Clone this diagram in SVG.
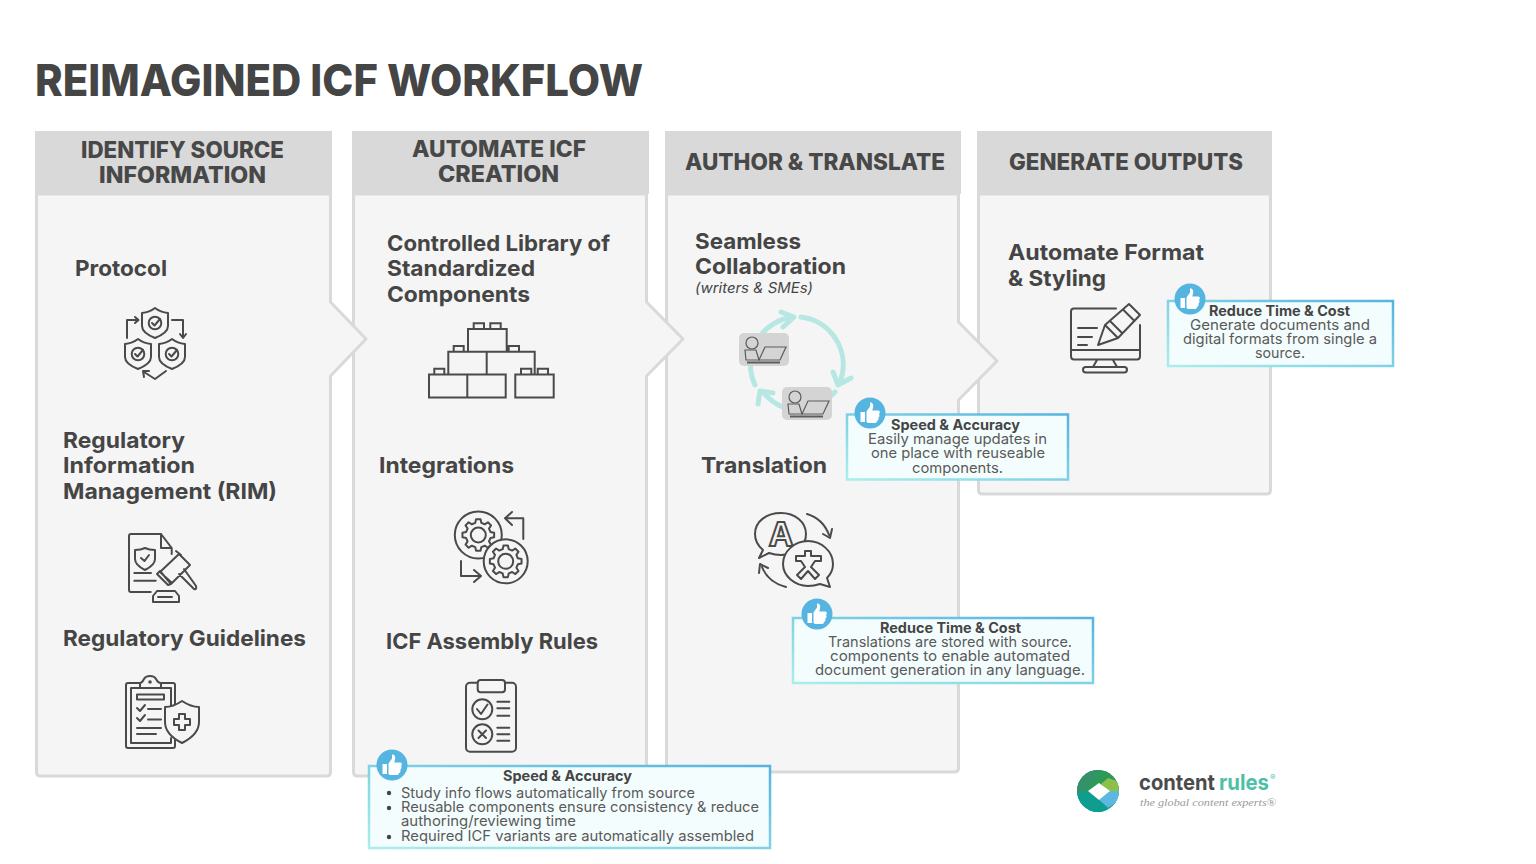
<svg xmlns="http://www.w3.org/2000/svg" width="1536" height="864" viewBox="0 0 1536 864">
<style>
text{font-family:"Inter","Open Sans","Liberation Sans",sans-serif;fill:#454545}
.title{font-size:44px;font-weight:800}
.hd{font-size:22.5px;font-weight:800;fill:#484848}
.sub{font-size:22px;font-weight:700}
.cb{font-size:14px;font-weight:700}
.ct{font-size:14.5px;font-weight:400;fill:#5a5a5a}
.pan{fill:#f5f5f5;stroke:#d9d9d9;stroke-width:3;stroke-linejoin:round}
.head{fill:#d9d9d9}
.ic{fill:none;stroke:#4a4a4a;stroke-width:2;stroke-linecap:round;stroke-linejoin:round}
.if{fill:#f5f5f5;stroke:#4a4a4a;stroke-width:2;stroke-linecap:round;stroke-linejoin:round}
.cy{fill:none;stroke:#b6e7e3;stroke-width:5;stroke-linecap:round;stroke-linejoin:round}
.pc{fill:none;stroke:#5c5c5c;stroke-width:1.200}
.box{fill:#f4fdfd;stroke:url(#bg);stroke-width:2.500}
</style>
<defs>
<linearGradient id="bg" x1="0" y1="1" x2="1" y2="0"><stop offset="0" stop-color="#aaeeea"/><stop offset="1" stop-color="#55b4e0"/></linearGradient>
<clipPath id="lc"><circle cx="1098" cy="791" r="21"/></clipPath>
<g id="thumb"><circle r="15.500" fill="#55b5e0"/><path d="M-9.500 -1H-5V9H-9.500ZM-3.500 -1.500L0 -6.500V-10.500C2.500 -11 3.800 -8.500 3 -5.500L2.300 -2.500H8C10 -2.500 10.500 0 9 1C10 2.500 9.500 4 8.300 4.500C9 6 8.300 7.500 7 8C7 9.500 6 10 4.500 10H-1C-2 10 -3 9.500 -3.500 9Z" fill="#fff"/></g>
<g id="shield"><path class="if" d="M0 -15C4 -12 9 -10.500 13 -10V3C13 9 5 13 0 15C-5 13 -13 9 -13 3V-10C-9 -10.500 -4 -12 0 -15Z"/><circle class="ic" r="6.300" stroke-width="1.600"/><path class="ic" d="M-3 0L-.5 2.500L5 -4"/></g>
<g id="gear"><path class="ic" d="M12.130 -3.020L15.840 -2.230V2.230L12.130 3.020L10.710 6.440L12.780 9.630L9.630 12.780L6.440 10.710L3.020 12.130L2.230 15.840H-2.230L-3.020 12.130L-6.440 10.710L-9.630 12.780L-12.780 9.630L-10.710 6.440L-12.130 3.020L-15.840 2.230V-2.230L-12.130 -3.020L-10.710 -6.440L-12.780 -9.630L-9.630 -12.780L-6.440 -10.710L-3.020 -12.130L-2.230 -15.840H2.230L3.020 -12.130L6.440 -10.710L9.630 -12.780L12.780 -9.630L10.710 -6.440Z"/><circle class="ic" r="7.500"/></g>
<g id="worker"><rect width="50" height="33" rx="5" fill="#d4d4d4"/><circle class="pc" cx="13" cy="10" r="6"/><path class="pc" d="M6 17H17L20 27H7Z"/><path class="pc" d="M20 27L26 14H47L41 27Z"/><path d="M8 29.500H41" stroke="#5c5c5c" stroke-width="1.800"/></g>
</defs>

<g id="panel-4">
<path class="pan" d="M978.500 194V490Q978.500 494 982.500 494H1266.500Q1270.500 494 1270.500 490V194Z"/><rect class="head" x="977" y="131" width="295" height="63"/>
<text class="hd" x="1009" y="170" textLength="234" lengthAdjust="spacingAndGlyphs">GENERATE OUTPUTS</text>
<text class="sub" x="1008" y="260" textLength="196" lengthAdjust="spacingAndGlyphs">Automate Format</text>
<text class="sub" x="1008" y="286" textLength="98" lengthAdjust="spacingAndGlyphs">&amp; Styling</text>
<g id="icon-monitor">
<path class="ic" d="M1116 308.500H1074Q1071 308.500 1071 311.500V356Q1071 359.500 1074 359.500H1137Q1140 359.500 1140 356V325M1071 350H1140M1078 328H1097M1078 337H1092M1078 345H1087M1097 360L1093 367M1113 360L1117 367"/>
<rect class="ic" x="1083" y="367" width="44" height="5.500" rx="2.700"/>
<path class="ic" d="M1098 345L1105 325L1129 304L1140 315L1118 338ZM1105 325L1118 338M1123 309.500L1134.500 321M1110 321L1122 333"/>
</g>
</g>

<g id="panel-3">
<path class="pan" d="M666.500 194V768Q666.500 772 670.500 772H954.500Q958.500 772 958.500 768V400L997 361L958.500 322V194Z"/><rect class="head" x="665" y="131" width="296" height="63"/>
<text class="hd" x="685" y="170" textLength="260" lengthAdjust="spacingAndGlyphs">AUTHOR &amp; TRANSLATE</text>
<text class="sub" x="695" y="249" textLength="106" lengthAdjust="spacingAndGlyphs">Seamless</text>
<text class="sub" x="695" y="274" textLength="151" lengthAdjust="spacingAndGlyphs">Collaboration</text>
<text x="695" y="293" font-size="14.500" font-style="italic" textLength="118" lengthAdjust="spacingAndGlyphs">(writers &amp; SMEs)</text>
<text class="sub" x="701" y="473" textLength="126" lengthAdjust="spacingAndGlyphs">Translation</text>
<g id="icon-cycle">
<path class="cy" d="M801 317A48 48 0 0 1 841 379M833 372L838 385L851 378"/>
<path class="cy" d="M783 407A48 48 0 0 1 763 392M758 404L760 391L773 393"/>
<path class="cy" d="M755 385A48 48 0 0 1 793 317M781 312L794 317L783 327"/>
<path class="cy" d="M832 395L835 392"/>
<use href="#worker" x="739" y="333"/><use href="#worker" x="782" y="387"/>
</g>
<g id="icon-translate">
<path class="if" d="M759 558L763 550C757 545 755 540 755 534C755 521 767 513 781 513C795 513 806 522 806 534C806 547 795 555 781 555C776 555 772 554 769 553Z"/>
<text x="781" y="546" font-size="33" font-weight="700" text-anchor="middle" style="fill:none;stroke:#4a4a4a;stroke-width:2">A</text>
<path class="if" d="M830 587L827 578C831 574 833 569 833 564C833 551 821 541 808 541C795 541 783 551 783 564C783 576 795 586 808 586C813 586 817 585 820 584Z"/>
<path class="ic" d="M805 556V551H811V556H821V561H815L811 567L819 575L815 579L808 571L801 579L797 575L805 567L801 561H796V556Z"/>
<path class="ic" d="M807 514C817 517 825 524 829 535M823 534L830 538L832 529M786 587C775 584 766 577 762 567M768 568L760 564L759 573"/>
</g>
</g>

<g id="panel-2">
<path class="pan" d="M353.500 194V772Q353.500 776 357.500 776H642.500Q646.500 776 646.500 772V376L683 339L646.500 302V194Z"/><rect class="head" x="352" y="131" width="297" height="63"/>
<text class="hd" x="412" y="157" textLength="174" lengthAdjust="spacingAndGlyphs">AUTOMATE ICF</text>
<text class="hd" x="438" y="182" textLength="121" lengthAdjust="spacingAndGlyphs">CREATION</text>
<text class="sub" x="387" y="251" textLength="223" lengthAdjust="spacingAndGlyphs">Controlled Library of</text>
<text class="sub" x="387" y="276" textLength="148" lengthAdjust="spacingAndGlyphs">Standardized</text>
<text class="sub" x="387" y="302" textLength="143" lengthAdjust="spacingAndGlyphs">Components</text>
<text class="sub" x="379" y="473" textLength="135" lengthAdjust="spacingAndGlyphs">Integrations</text>
<text class="sub" x="386" y="649" textLength="212" lengthAdjust="spacingAndGlyphs">ICF Assembly Rules</text>
<g id="icon-bricks">
<path class="ic" style="stroke-linecap:butt;stroke-linejoin:miter" d="M429 374.500H505.700V397.500H429ZM467.300 374.500V397.500M515.300 374.500H553.700V397.500H515.300ZM448.300 374.500V351.700H534.700V374.500M486.700 351.700V374.500M468 351.700V329H506.700V351.700M473.700 329V323.300H484V329M490.300 329V323.300H500.700V329M453.700 351.700V346H463.700V351.700M508.700 351.700V346H519V351.700M434.300 374.500V368.700H444.300V374.500M521 374.500V368.700H531.300V374.500M537.700 374.500V368.700H548V374.500"/>
</g>
<g id="icon-gears">
<path class="ic" d="M523.300 539V518.300H505M512 512L505 518.300L512 525M461 561V576H480.700M474 570L481 576L474 582"/>
<circle class="ic" cx="478.300" cy="535" r="23.500"/><use href="#gear" x="478.300" y="535"/>
<circle class="if" cx="505.700" cy="561.300" r="22"/><use href="#gear" x="505.700" y="561.300"/>
</g>
<g id="icon-checklist">
<rect class="ic" x="466" y="682.700" width="50" height="69" rx="4"/>
<rect class="if" x="477.700" y="680" width="27.300" height="12.300" rx="3"/>
<circle class="ic" cx="482.300" cy="709.300" r="10"/><circle class="ic" cx="482.300" cy="734.300" r="10"/>
<path class="ic" d="M477 709L481 714L487.500 704.500M478.500 730.500L486 738M486 730.500L478.500 738M497.300 701.700H509.300M497.300 708.300H509.300M497.300 715.700H509.300M497.300 727.700H509.300M497.300 734.300H509.300M497.300 740.700H509.300"/>
</g>
</g>

<g id="panel-1">
<path class="pan" d="M36.500 194V772Q36.500 776 40.500 776H326.500Q330.500 776 330.500 772V376L366 339L330.500 302V194Z"/><rect class="head" x="35" y="131" width="297" height="63"/>
<text class="hd" x="81" y="158" textLength="203" lengthAdjust="spacingAndGlyphs">IDENTIFY SOURCE</text>
<text class="hd" x="99" y="183" textLength="167" lengthAdjust="spacingAndGlyphs">INFORMATION</text>
<text class="sub" x="75" y="276" textLength="92" lengthAdjust="spacingAndGlyphs">Protocol</text>
<text class="sub" x="63" y="448" textLength="122" lengthAdjust="spacingAndGlyphs">Regulatory</text>
<text class="sub" x="63" y="473" textLength="132" lengthAdjust="spacingAndGlyphs">Information</text>
<text class="sub" x="63" y="499" textLength="214" lengthAdjust="spacingAndGlyphs">Management (RIM)</text>
<text class="sub" x="63" y="646" textLength="243" lengthAdjust="spacingAndGlyphs">Regulatory Guidelines</text>
<g id="icon-shields">
<use href="#shield" x="155" y="323"/><use href="#shield" x="138" y="354"/><use href="#shield" x="172" y="354"/>
<path class="ic" d="M127 338V320H138M135 317L138.500 320L135 323M172 320H183V337M180 334L183 338L186 334M166 371L155 379L144 372M144 377L143 371L149 371"/>
</g>
<g id="icon-rim">
<path class="ic" d="M161 534H131Q129 534 129 536V590Q129 592 131 592H150.700M161 534L171.700 548V554M161 534V548H171.700"/>
<path class="ic" d="M145 548C149 550 152 550 155 550V559C155 565 149 568 145 570C141 568 135 565 135 559V550C138 550 141 550 145 548ZM141 558L144.500 561L149 555M134.300 573H151M134.300 580.700H155.700"/>
<path class="ic" d="M179 554L190 565L172 583L160 572ZM176 551L181 555M157 574L168 585L171 584L160 571ZM179 574L194 589Q197 590 196 586L184 569"/>
<path class="ic" d="M157 591H175L179 596V602H153V596ZM158 597H172"/>
</g>
<g id="icon-guidelines">
<path class="ic" d="M150 748H128Q126 748 126 746V685Q126 683 128 683H173Q175 683 175 685V708M175 738V746Q175 748 173 748H150M131 743V688H171V708M131 743H171V738"/>
<path class="if" d="M140 688V683C142 683 143 681 144 679C146 675 154 675 156 679C157 681 158 683 161 683V688Z"/>
<circle cx="150" cy="682" r="1.800" fill="#4a4a4a"/>
<rect class="ic" x="137" y="694.500" width="27" height="5"/>
<path class="ic" d="M137 708L140 711L145 705M148 709H161M137 718L140 721L145 715M148 719.500H161M137 728H161M137 734H156"/>
<path class="if" d="M182 701C188 705 193 707 199 707V722C199 733 190 739 182 743C174 739 165 733 165 722V707C171 707 176 705 182 701Z"/>
<path class="ic" d="M179 714H185V719H190V725H185V730H179V725H174V719H179Z"/>
</g>
</g>

<g id="connectors"></g>

<g id="heading"><text class="title" x="35" y="96" textLength="608" lengthAdjust="spacingAndGlyphs">REIMAGINED ICF WORKFLOW</text></g>

<g id="callout-outputs">
<rect class="box" x="1168" y="301" width="225" height="65"/><use href="#thumb" x="1190" y="299"/>
<text class="cb" x="1209" y="316" textLength="141" lengthAdjust="spacingAndGlyphs">Reduce Time &amp; Cost</text>
<text class="ct" x="1190" y="330" textLength="180" lengthAdjust="spacingAndGlyphs">Generate documents and</text>
<text class="ct" x="1183" y="344" textLength="194" lengthAdjust="spacingAndGlyphs">digital formats from single a</text>
<text class="ct" x="1255" y="358" textLength="50" lengthAdjust="spacingAndGlyphs">source.</text>
</g>
<g id="callout-collab">
<rect class="box" x="847" y="414.500" width="221" height="65"/><use href="#thumb" x="870" y="413"/>
<text class="cb" x="891" y="430" textLength="129" lengthAdjust="spacingAndGlyphs">Speed &amp; Accuracy</text>
<text class="ct" x="868" y="444" textLength="179" lengthAdjust="spacingAndGlyphs">Easily manage updates in</text>
<text class="ct" x="871" y="458" textLength="174" lengthAdjust="spacingAndGlyphs">one place with reuseable</text>
<text class="ct" x="912" y="473" textLength="91" lengthAdjust="spacingAndGlyphs">components.</text>
</g>
<g id="callout-translation">
<rect class="box" x="793" y="618" width="300" height="65"/><use href="#thumb" x="817" y="614"/>
<text class="cb" x="880" y="633" textLength="141" lengthAdjust="spacingAndGlyphs">Reduce Time &amp; Cost</text>
<text class="ct" x="828" y="647" textLength="244" lengthAdjust="spacingAndGlyphs">Translations are stored with source.</text>
<text class="ct" x="830" y="661" textLength="240" lengthAdjust="spacingAndGlyphs">components to enable automated</text>
<text class="ct" x="815" y="675" textLength="270" lengthAdjust="spacingAndGlyphs">document generation in any language.</text>
</g>
<g id="callout-automate">
<rect class="box" x="369" y="766" width="401" height="82"/><use href="#thumb" x="392" y="765"/>
<text class="cb" x="503" y="781" textLength="129" lengthAdjust="spacingAndGlyphs">Speed &amp; Accuracy</text>
<circle cx="389" cy="793" r="2.200" fill="#454545"/><circle cx="389" cy="808" r="2.200" fill="#454545"/><circle cx="389" cy="837" r="2.200" fill="#454545"/>
<text class="ct" x="401" y="798" textLength="294" lengthAdjust="spacingAndGlyphs">Study info flows automatically from source</text>
<text class="ct" x="401" y="812" textLength="358" lengthAdjust="spacingAndGlyphs">Reusable components ensure consistency &amp; reduce</text>
<text class="ct" x="401" y="826" textLength="175" lengthAdjust="spacingAndGlyphs">authoring/reviewing time</text>
<text class="ct" x="401" y="841" textLength="353" lengthAdjust="spacingAndGlyphs">Required ICF variants are automatically assembled</text>
</g>

<g id="logo">
<g clip-path="url(#lc)">
<rect x="1077" y="770" width="42" height="42" fill="#0f9d8f"/>
<path d="M1077 770H1119V794H1110L1099 783L1088 791H1077Z" fill="#2e9a58"/>
<path d="M1077 770H1100L1090 785L1077 795Z" fill="#35916a"/>
<path d="M1108 778L1120 782V793H1110L1101 784Z" fill="#8cc04b"/>
<path d="M1120 791H1110L1099 800L1108 808L1120 800Z" fill="#5db7e0"/>
<path d="M1077 795L1088 791L1099 800L1108 808L1100 813H1077Z" fill="#0f9d8f"/>
</g>
<path d="M1088 791L1099 783L1110 791L1099 800Z" fill="#fff"/>
<text x="1139" y="790" font-size="22" font-weight="700" textLength="76" lengthAdjust="spacingAndGlyphs" style="fill:#4b4b4b">content</text>
<text x="1219" y="790" font-size="22" font-weight="700" textLength="50" lengthAdjust="spacingAndGlyphs" style="fill:#4fbfa8">rules</text>
<text x="1270" y="780" font-size="8" style="fill:#4fbfa8">®</text>
<text x="1140" y="806" font-size="10.500" font-style="italic" textLength="136" lengthAdjust="spacingAndGlyphs" style="font-family:'Liberation Serif',serif;fill:#9a9a9a">the global content experts®</text>
</g>
</svg>
